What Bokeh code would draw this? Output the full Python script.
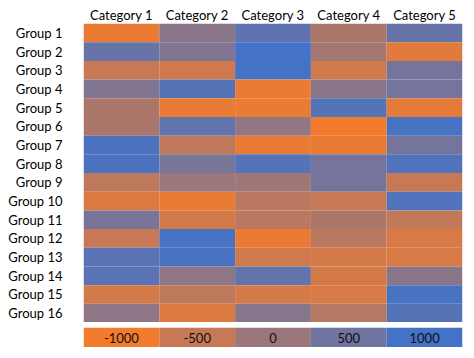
import numpy as np
from bokeh.plotting import figure
from bokeh.layouts import column
from bokeh.models import ColumnDataSource, LinearColorMapper
from bokeh.transform import transform
from bokeh.core.properties import value
from bokeh.embed import file_html
from bokeh.resources import INLINE

categories = ["Category 1", "Category 2", "Category 3", "Category 4", "Category 5"]
groups = [f"Group {i}" for i in range(1, 17)]

cat1 = [-900, 600, -500, 300, -200, -200, 900, 900, -400, -750, 400, -500, 750, 750, -650, 150]
cat2 = [200, 300, -600, 800, -900, 650, -400, 400, 0, -900, -650, 950, 950, 150, -400, -750]
cat3 = [700, 1000, 1000, -900, -900, 100, -900, 800, -50, -350, -350, -900, -600, 650, -650, 250]
cat4 = [-200, -100, -600, 200, 800, -1000, -900, 450, 450, -500, -200, -350, -650, -650, -700, -300]
cat5 = [600, -800, 450, 450, -850, 950, 450, 850, -500, 850, -450, -700, -700, 200, 950, 800]

legend_values = [-1000, -500, 0, 500, 1000]
legend_labels = ["-1000", "-500", "0", "500", "1000"]

def lerp_palette(c0, c1, n=256):
    a = np.array([int(c0[i:i+2], 16) for i in (1, 3, 5)], float)
    b = np.array([int(c1[i:i+2], 16) for i in (1, 3, 5)], float)
    out = []
    for t in np.linspace(0, 1, n):
        c = a + (b - a) * t
        out.append("#%02x%02x%02x" % tuple(int(round(v)) for v in c))
    return out

palette = lerp_palette("#F27B2E", "#4472C6")
mapper = LinearColorMapper(palette=palette, low=-1000, high=1000)

xs, ys, vs = [], [], []
for cat, vals in zip(categories, [cat1, cat2, cat3, cat4, cat5]):
    for g, v in zip(groups, vals):
        xs.append(cat); ys.append(g); vs.append(v)
src = ColumnDataSource(dict(x=xs, y=ys, v=vs))

FONT = "Lato"
LEFT = 83

p = figure(x_range=categories, y_range=list(reversed(groups)),
           frame_width=379, frame_height=299, width=LEFT + 379 + 4, height=23 + 299,
           x_axis_location="above", output_backend="svg", toolbar_location=None,
           min_border_left=LEFT, min_border_right=4, min_border_top=23, min_border_bottom=0)
p.rect(x="x", y="y", width=1, height=1, source=src,
       fill_color=transform("v", mapper), line_color=None)
p.outline_line_color = None
p.grid.grid_line_color = None
for ax in (p.xaxis[0], p.yaxis[0]):
    ax.axis_line_color = None
    ax.major_tick_line_color = None
    ax.minor_tick_line_color = None
    ax.major_tick_out = 0
    ax.major_tick_in = 0
    ax.major_label_text_font = FONT
    ax.major_label_text_font_size = "13px"
    ax.major_label_text_color = "#000000"
p.xaxis.major_label_standoff = 1
p.yaxis.major_label_standoff = 21

lsrc = ColumnDataSource(dict(x=categories, v=legend_values, t=legend_labels))
q = figure(x_range=p.x_range, y_range=(0, 1),
           frame_width=379, frame_height=20, width=LEFT + 379 + 4, height=25,
           output_backend="svg", toolbar_location=None,
           min_border_left=LEFT, min_border_right=4, min_border_top=5, min_border_bottom=0)
q.rect(x="x", y=0.5, width=1, height=1, source=lsrc,
       fill_color=transform("v", mapper), line_color=None)
q.text(x="x", y=0.5, text="t", source=lsrc, text_align="center", text_baseline="middle",
       text_font=value(FONT), text_font_size="13px", text_color="#111111")
q.axis.visible = False
q.grid.grid_line_color = None
q.outline_line_color = None

layout = column(p, q, spacing=0)
open("out.html", "w").write(file_html(layout, INLINE))
